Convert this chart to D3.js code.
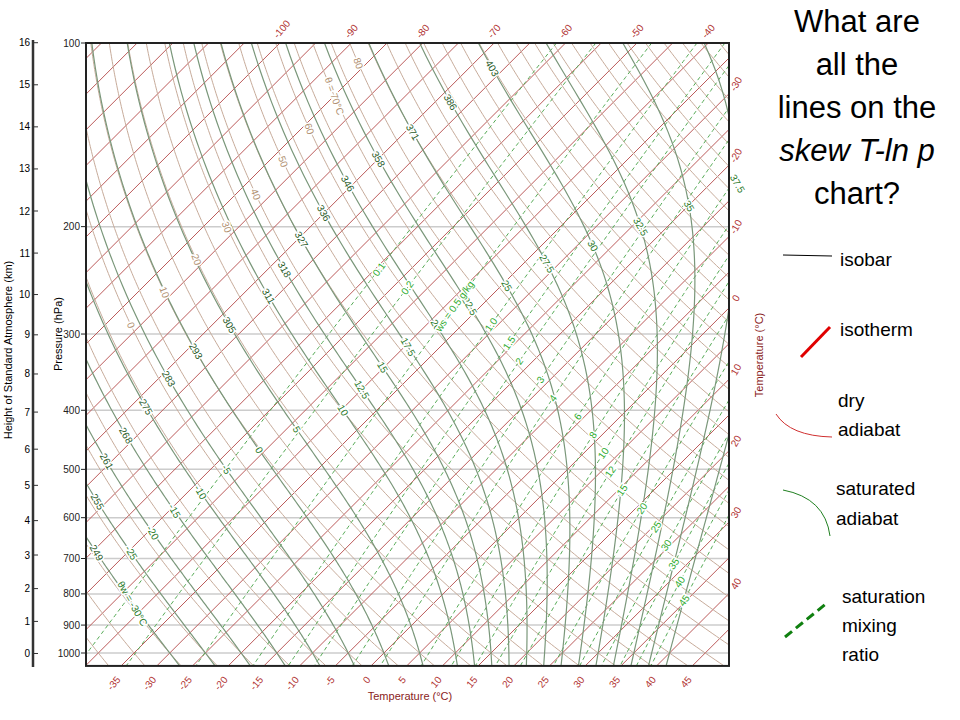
<!DOCTYPE html>
<html><head><meta charset="utf-8">
<script src="https://cdn.jsdelivr.net/npm/d3@7"></script>
<style>body{margin:0;background:#fff}text{font-family:Arial,"Liberation Sans",sans-serif}</style>
</head><body><svg id="c" width="960" height="720"></svg>
<script>
const isobars=[100,200,300,400,500,600,700,800,900,1000];
const heightTicks=[0,1,2,3,4,5,6,7,8,9,10,11,12,13,14,15,16];
const bottomTemps=[-35,-30,-25,-20,-15,-10,-5,0,5,10,15,20,25,30,35,40,45];
const topTemps=[-100,-90,-80,-70,-60,-50,-40];
const rightTemps=[-30,-20,-10,0,10,20,30,40];
const isotherms=d3.range(-160,60,5);
const dryThetas=d3.range(-40,185,5);
const dryLabels=[0,10,20,30,40,50,60,70,80];
const moistThetaW=[-30,-25,-20,-15,-10,-5,0,5,10,12.5,15,17.5,20,22.5,25,27.5,30,32.5,35,37.5,40];
const moistK=[249,255,261,268,275,283,293,305,311,318,327,336,346,358,371,386,403];
const mixRatios=[0.1,0.2,0.5,1,1.5,2,3,4,6,8,10,12,15,20,25,30,35,40,45];
const mixLabels=["0.1","0.2","ws = 0.5 g/kg","1.0","1.5","2","3","4","6","8","10","12","15","20","25","30","35","40","45"];

const svg=d3.select("#c");
const L=86,R=729,T0=43;
const y=d3.scaleLog().domain([100,1000]).range([43,653]);
const B=y(1050);
const tx=d3.scaleLinear().domain([0,45]).range([371,371+7.14*45]);
const X=(t,p)=>tx(t)+(B-y(p));
const ps=d3.range(Math.log(100),Math.log(1050)+0.001,0.01).map(Math.exp);
const line=d3.line().x(d=>d[0]).y(d=>d[1]);
svg.append("clipPath").attr("id","cp").append("rect").attr("x",L).attr("y",T0).attr("width",R-L).attr("height",B-T0);
const g=svg.append("g").attr("clip-path","url(#cp)");

g.selectAll(".ib").data(isobars).join("line").attr("x1",L).attr("x2",R).attr("y1",d=>y(d)).attr("y2",d=>y(d)).attr("stroke","#cccccc").attr("stroke-width",1.5);
g.selectAll(".it").data(isotherms).join("line").attr("x1",d=>X(d,1050)).attr("y1",B).attr("x2",d=>X(d,100)).attr("y2",y(100)).attr("stroke","#bb5a5a").attr("stroke-width",1);
const dryPts=th=>ps.map(p=>[X((th+273.15)*Math.pow(p/1000,0.2857)-273.15,p),y(p)]);
g.selectAll(".da").data(dryThetas).join("path").attr("d",d=>line(dryPts(d))).attr("fill","none").attr("stroke","#c7ab9a").attr("stroke-width",1);
const es=t=>6.112*Math.exp(17.67*t/(t+243.5));
const tFromW=(w,p)=>{const e=w/1000*p/(0.622+w/1000);const l=Math.log(e/6.112);return 243.5*l/(17.67-l);};
g.selectAll(".mr").data(mixRatios).join("path").attr("d",w=>line(ps.map(p=>[X(tFromW(w,p),p),y(p)]))).attr("fill","none").attr("stroke","#55aa55").attr("stroke-width",1).attr("stroke-dasharray","4,3");
function moist(tw){
  const Rd=287,cp=1004,Lv=2.5e6,eps=0.622;
  const step=(pp,tt)=>{const rs=eps*es(tt-273.15)/(pp-es(tt-273.15));return (Rd*tt+Lv*rs)/(pp*(cp+Lv*Lv*rs*eps/(Rd*tt*tt)));};
  const t=tw+273.15;
  let pp=1000,tt=t;
  while(pp<1050){tt+=step(pp,tt);pp+=1;}
  const lowT=tt;
  pp=1000;tt=t;const up=[];
  while(pp>100){tt-=step(pp,tt);pp-=1;if(Math.round(pp)%5===0)up.push([pp,tt]);}
  return [[1050,lowT],[1000,t]].concat(up);
}
const moistData=moistThetaW.map(tw=>({tw,pts:moist(tw)}));
g.selectAll(".ma").data(moistData).join("path").attr("d",d=>line(d.pts.map(q=>[X(q[1]-273.15,q[0]),y(q[0])]))).attr("fill","none").attr("stroke","#7a977a").attr("stroke-width",1.2);

function onMoist(d,p){let best=null;for(const q of d.pts){const xx=X(q[1]-273.15,q[0]);if(xx<L+10)continue;if(!best||Math.abs(q[0]-p)<Math.abs(best[0]-p))best=q;}return [X(best[1]-273.15,best[0]),y(best[0])];}
const lab=svg.append("g");
const txt=(xx,yy,rot,col,s)=>lab.append("text").attr("transform",`translate(${xx},${yy}) rotate(${rot})`).attr("text-anchor","middle").attr("dy","0.35em").attr("font-size",10).attr("fill",col).attr("stroke","#fff").attr("stroke-width",3).attr("paint-order","stroke").text(s);
moistK.forEach((k,i)=>{const p=Math.exp(Math.log(600)+(Math.log(112)-Math.log(600))*i/(moistK.length-1));
  const [xx,yy]=onMoist(moistData[i],p);txt(xx,yy,60,"#1f5a1f",k);});
moistData.forEach((d,i)=>{if(i>=moistData.length-1)return;const p=i===0?830:Math.exp(Math.log(740)+(Math.log(170)-Math.log(740))*i/(moistData.length-2));
  const [xx,yy]=onMoist(d,p);txt(xx,yy,60,"#2a7a2a",i===0?"θw = -30°C":d.tw);});
mixRatios.forEach((w,i)=>{const p=Math.exp(Math.log(235)+(Math.log(820)-Math.log(235))*i/(mixRatios.length-1));
  txt(X(tFromW(w,p),p),y(p),-55,"#2daa2d",mixLabels[i]);});
dryLabels.forEach((th,i)=>{const p=Math.exp(Math.log(290)+(Math.log(108)-Math.log(290))*i/(dryLabels.length-1));
  txt(X((th+273.15)*Math.pow(p/1000,0.2857)-273.15,p),y(p),70,"#b09070",th===70?"θ = 70°C":th);});

svg.append("rect").attr("x",L).attr("y",T0).attr("width",R-L).attr("height",B-T0).attr("fill","none").attr("stroke","#222").attr("stroke-width",2);
isobars.forEach(p=>{svg.append("line").attr("x1",L-5).attr("x2",L).attr("y1",y(p)).attr("y2",y(p)).attr("stroke","#222");
  svg.append("text").attr("x",L-6).attr("y",y(p)).attr("dy","0.35em").attr("text-anchor","end").attr("font-size",10).attr("fill","#222").text(p);});
svg.append("text").attr("transform",`translate(62,${y(300)}) rotate(-90)`).attr("text-anchor","middle").attr("font-size",11).text("Pressure (hPa)");
const pz=z=>z<=11?1013.25*Math.pow(1-2.25577e-5*z*1000,5.25588):226.32*Math.exp(-(z-11)*1000/6341.6);
svg.append("line").attr("x1",33).attr("x2",33).attr("y1",40).attr("y2",667).attr("stroke","#333").attr("stroke-width",2.5);
heightTicks.forEach(z=>{const yy=y(pz(z))-3-z*0.3;svg.append("line").attr("x1",33).attr("x2",38).attr("y1",yy).attr("y2",yy).attr("stroke","#333");
  svg.append("text").attr("x",30).attr("y",yy).attr("dy","0.35em").attr("text-anchor","end").attr("font-size",10).text(z);});
svg.append("text").attr("transform","translate(12,350) rotate(-90)").attr("text-anchor","middle").attr("font-size",11).text("Height of Standard Atmosphere (km)");
const red="#b03030";
bottomTemps.forEach(t=>svg.append("text").attr("transform",`translate(${tx(t)},${B+14}) rotate(-50)`).attr("text-anchor","end").attr("font-size",10).attr("fill",red).text(t));
topTemps.forEach(t=>{const xx=X(t,100);svg.append("text").attr("transform",`translate(${xx-2},${T0-4}) rotate(-50)`).attr("text-anchor","start").attr("font-size",10).attr("fill",red).text(t);});
rightTemps.forEach(t=>{const yy=B-(R-tx(t))-8;svg.append("text").attr("transform",`translate(${R+10},${yy}) rotate(-60)`).attr("text-anchor","middle").attr("font-size",10).attr("fill",red).text(t);});
svg.append("text").attr("x",410).attr("y",700).attr("text-anchor","middle").attr("font-size",11).attr("fill","#8a1c1c").text("Temperature (°C)");
svg.append("text").attr("transform","translate(763,355) rotate(-90)").attr("text-anchor","middle").attr("font-size",11).attr("fill","#8a1c1c").text("Temperature (°C)");

const tt=svg.append("text").attr("text-anchor","middle").attr("font-size",31).attr("fill","#000");
["What are","all the","lines on the",null,"chart?"].forEach((s,i)=>{
  const t=tt.append("tspan").attr("x",857).attr("y",32+i*43);
  if(s===null){t.append("tspan").attr("font-style","italic").text("skew T-ln p");}else t.text(s);});
svg.append("line").attr("x1",783).attr("x2",832).attr("y1",255).attr("y2",256).attr("stroke","#000");
svg.append("text").attr("x",840).attr("y",266).attr("font-size",19).text("isobar");
svg.append("line").attr("x1",801).attr("y1",357).attr("x2",830).attr("y2",327).attr("stroke","#e00000").attr("stroke-width",3);
svg.append("text").attr("x",840).attr("y",336).attr("font-size",19).text("isotherm");
svg.append("path").attr("d","M776,414 Q790,436 832,437").attr("fill","none").attr("stroke","#d03030");
svg.append("text").attr("x",838).attr("y",407).attr("font-size",19).text("dry");
svg.append("text").attr("x",838).attr("y",436).attr("font-size",19).text("adiabat");
svg.append("path").attr("d","M783,490 Q825,498 830,536").attr("fill","none").attr("stroke","#208020");
svg.append("text").attr("x",836).attr("y",495).attr("font-size",19).text("saturated");
svg.append("text").attr("x",836).attr("y",525).attr("font-size",19).text("adiabat");
svg.append("line").attr("x1",785).attr("y1",637).attr("x2",827).attr("y2",603).attr("stroke","#108010").attr("stroke-width",3).attr("stroke-dasharray","9,5");
["saturation","mixing","ratio"].forEach((s,i)=>svg.append("text").attr("x",842).attr("y",603+i*29).attr("font-size",19).text(s));
</script></body></html>
